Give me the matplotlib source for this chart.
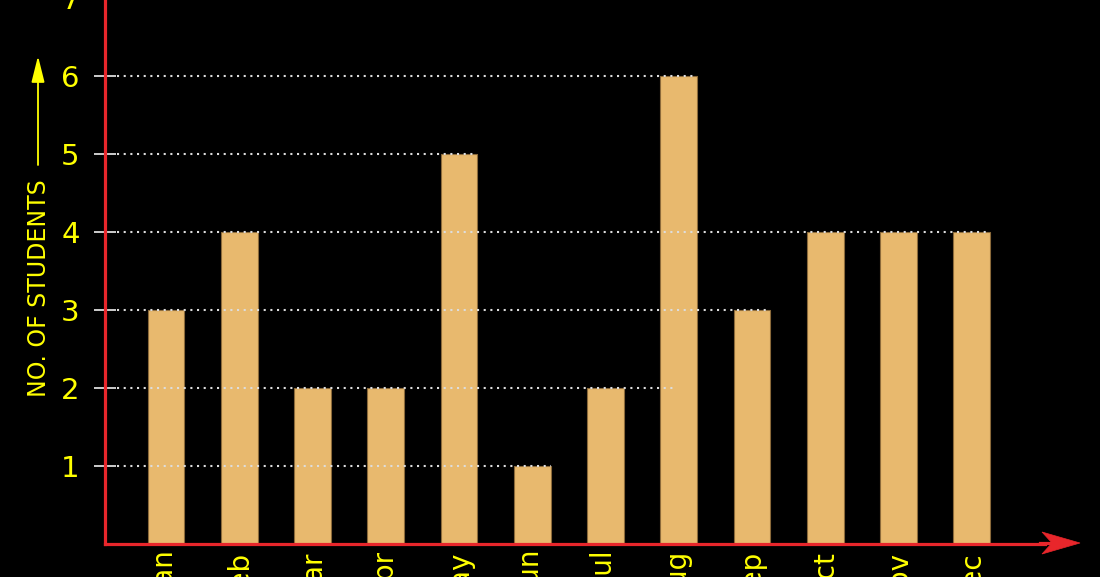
import matplotlib
matplotlib.use("Agg")
import matplotlib.pyplot as plt
from matplotlib.patches import Polygon, FancyArrowPatch

months = ["Jan", "Feb", "Mar", "Apr", "May", "Jun",
          "Jul", "Aug", "Sep", "Oct", "Nov", "Dec"]
students = [3, 4, 2, 2, 5, 1, 2, 6, 3, 4, 4, 4]
yticks = [1, 2, 3, 4, 5, 6, 7]

# dotted guide lines: level and where they stop (bar index units)
guide_levels = [1, 2, 3, 4, 5, 6]
guide_ends = [5.25, 6.96, 8.25, 11.25, 4.25, 7.25]

YELLOW = "#FFFF00"
RED = "#E8262B"
BAR = "#E8B96E"

W, H = 1100, 577
fig = plt.figure(figsize=(11, 5.77), dpi=100, facecolor="black")
ax = fig.add_axes([105 / W, 33 / H, 940 / W, 546 / H])
ax.set_facecolor("black")

x = list(range(len(months)))
ax.bar(x, students, width=0.5, color=BAR, edgecolor="#8B6A3A",
       linewidth=0.8, zorder=2)

# guide lines drawn over the bars
for lvl, end in zip(guide_levels, guide_ends):
    ax.plot([-0.67, end], [lvl, lvl], color="#DDDDDD", lw=1.5,
            linestyle=(0, (1, 2.2)), zorder=3)

ax.set_xlim(-0.832, 12.0)
ax.set_ylim(0, 7)

for s in ["top", "right"]:
    ax.spines[s].set_visible(False)
for s in ["left", "bottom"]:
    ax.spines[s].set_color(RED)
    ax.spines[s].set_linewidth(2.3)
    ax.spines[s].set_zorder(4)

# notched arrow head at the end of the x axis
fx = lambda px: px / W
fy = lambda py: 1 - py / H
head = Polygon([(fx(1080), fy(543)), (fx(1042), fy(532)), (fx(1052), fy(543)),
                (fx(1042), fy(554))], closed=True, transform=fig.transFigure,
               facecolor=RED, edgecolor=RED, lw=0.5)
fig.patches.append(head)
fig.add_artist(plt.Line2D([fx(1040), fx(1055)], [fy(543), fy(543)],
                          color=RED, lw=2.3, transform=fig.transFigure))

ax.set_yticks(yticks)
ax.set_yticklabels([str(v) for v in yticks])
ax.tick_params(axis="y", direction="inout", length=16.5, width=1.3,
               color="#DDDDDD", labelcolor=YELLOW, labelsize=21, pad=10)
ax.set_xticks(x)
ax.set_xticklabels(months, rotation=90)
ax.tick_params(axis="x", length=0, labelcolor=YELLOW, labelsize=20, pad=5)

# y label with arrow
fig.text(fx(39), fy(288), "NO. OF STUDENTS", rotation=90,
         color=YELLOW, fontsize=17, ha="center", va="center")
fig.patches.append(FancyArrowPatch(
    (fx(38), fy(165)), (fx(38), fy(56)),
    transform=fig.transFigure, arrowstyle="-|>,head_length=1.6,head_width=0.4",
    mutation_scale=10, color=YELLOW, lw=1.3, shrinkA=0, shrinkB=0))

fig.savefig("out.png", dpi=100, facecolor="black")
